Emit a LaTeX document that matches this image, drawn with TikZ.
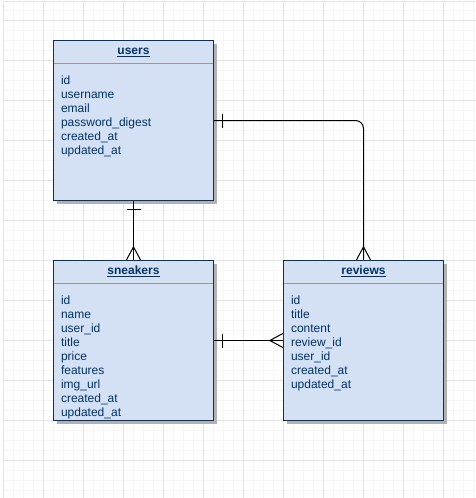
\documentclass[tikz,border=0pt]{standalone}
\usepackage{fontspec}
\setmainfont{Liberation Sans}
\usetikzlibrary{shadows}
\definecolor{entityfill}{RGB}{212,225,245}
\definecolor{entityline}{RGB}{0,51,102}
\definecolor{minorgrid}{RGB}{246,246,246}
\definecolor{majorgrid}{RGB}{228,228,228}

\begin{document}
\begin{tikzpicture}[x=1pt,y=-1pt,
    entity/.style={draw=entityline,fill=entityfill,line width=1.3pt,minimum width=160pt,minimum height=160pt,inner sep=0pt,
      drop shadow={shadow xshift=3pt,shadow yshift=-3pt,fill=black!30,opacity=1}},
    etitle/.style={anchor=base,inner sep=0pt,text=entityline,font=\fontsize{12}{14}\selectfont\bfseries},
    efields/.style={anchor=north west,inner sep=0pt,align=left,text=entityline,font=\fontsize{12}{14}\selectfont},
    esep/.style={draw=black!40,line width=1pt},
    rel/.style={draw=black,line width=1pt}]
    \useasboundingbox (0,0) rectangle (476,498);
    \fill[white] (0,0) rectangle (476,498);
    % grid
    \foreach \x in {13.5,23.5,...,473.5} \draw[minorgrid] (\x,1) -- (\x,498);
    \foreach \y in {10.5,20.5,...,490.5} \draw[minorgrid] (3,\y) -- (476,\y);
    \foreach \x in {43.5,83.5,...,443.5} \draw[majorgrid] (\x,1) -- (\x,498);
    \foreach \y in {20.5,60.5,...,460.5} \draw[majorgrid] (3,\y) -- (476,\y);
    \draw[majorgrid] (3.5,498) -- (3.5,1.5) -- (476,1.5);

    % entities
    \node[entity] (users) at (133.5,120.5) {};
    \node[entity] (sneakers) at (133.5,340.5) {};
    \node[entity] (reviews) at (363.5,340.5) {};

    \node[etitle] (userstitle) at ([yshift=-15pt]users.north) {\underline{users}};
    \node[etitle] (sneakerstitle) at ([yshift=-15pt]sneakers.north) {\underline{sneakers}};
    \node[etitle] (reviewstitle) at ([yshift=-15pt]reviews.north) {\underline{reviews}};

    \draw[esep] ([xshift=1pt,yshift=-23.5pt]users.north west) -- ([xshift=-1pt,yshift=-23.5pt]users.north east);
    \draw[esep] ([xshift=1pt,yshift=-23.5pt]sneakers.north west) -- ([xshift=-1pt,yshift=-23.5pt]sneakers.north east);
    \draw[esep] ([xshift=1pt,yshift=-23.5pt]reviews.north west) -- ([xshift=-1pt,yshift=-23.5pt]reviews.north east);

    \node[efields] (usersfields) at ([xshift=8pt,yshift=-36pt]users.north west)
      {id\\username\\email\\password\_digest\\created\_at\\updated\_at};
    \node[efields] (sneakersfields) at ([xshift=8pt,yshift=-36pt]sneakers.north west)
      {id\\name\\user\_id\\title\\price\\features\\img\_url\\created\_at\\updated\_at};
    \node[efields] (reviewsfields) at ([xshift=8pt,yshift=-36pt]reviews.north west)
      {id\\title\\content\\review\_id\\user\_id\\created\_at\\updated\_at};

    % relations
    \draw[rel] (users.south) -- (sneakers.north);
    \draw[rel] ([yshift=-8pt]users.south) ++(-7,0) -- ++(14,0);
    \draw[rel] ([yshift=13pt]sneakers.north) -- ++(-7,13) ([yshift=13pt]sneakers.north) -- ++(7,13);

    \draw[rel,rounded corners=8pt] (users.east) -| (reviews.north);
    \draw[rel] ([xshift=8pt]users.east) ++(0,-7) -- ++(0,14);
    \draw[rel] ([yshift=13pt]reviews.north) -- ++(-7,13) ([yshift=13pt]reviews.north) -- ++(7,13);

    \draw[rel] (sneakers.east) -- (reviews.west);
    \draw[rel] ([xshift=8pt]sneakers.east) ++(0,-7) -- ++(0,14);
    \draw[rel] ([xshift=-13pt]reviews.west) -- ++(13,-7) ([xshift=-13pt]reviews.west) -- ++(13,7);
\end{tikzpicture}
\end{document}
